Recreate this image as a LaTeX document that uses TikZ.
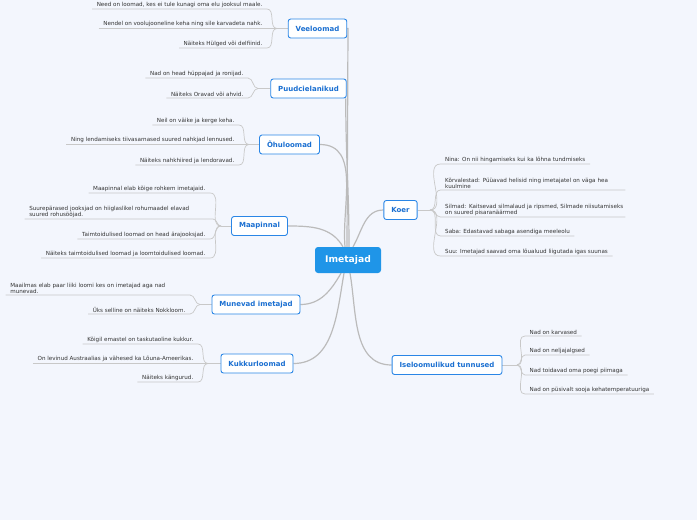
\documentclass[tikz,border=0pt]{standalone}
\usepackage{fontspec}
\setmainfont{DejaVu Sans}
\definecolor{bgc}{HTML}{F3F6FD}
\definecolor{rootc}{HTML}{1F95E8}
\definecolor{brc}{HTML}{2A86E6}
\definecolor{brtext}{HTML}{1A6FD1}
\definecolor{leafc}{HTML}{333333}
\definecolor{connc}{HTML}{BBBBBB}
\definecolor{linec}{HTML}{C8C8C8}
\pgfdeclarelayer{bgl}
\pgfdeclarelayer{edges}
\pgfsetlayers{bgl,edges,main}
\begin{document}
\begin{tikzpicture}[x=1pt,y=-1pt,
  rootbox/.style={fill=rootc, rounded corners=3pt, text=white, font=\bfseries\fontsize{9.2}{11}\selectfont, minimum width=66pt, minimum height=26pt, inner sep=0pt},
  branch/.style={draw=brc, line width=0.9pt, fill=white, rounded corners=2.5pt, text=brtext, font=\bfseries\fontsize{7}{8}\selectfont, minimum height=19pt, inner xsep=7.5pt, inner ysep=0pt},
  leafl/.style={font=\fontsize{5.6}{6.2}\selectfont, text=leafc, inner xsep=4.5pt, inner ysep=1.3pt, anchor=south east},
  leafr/.style={font=\fontsize{5.6}{6.2}\selectfont, text=leafc, inner xsep=4.5pt, inner ysep=1.3pt, anchor=south west},
  multi/.style={align=left, text width=#1},
  conn/.style={draw=connc, line width=1.2pt},
  lline/.style={draw=linec, line width=0.7pt}]
\begin{pgfonlayer}{bgl}
\fill[bgc] (0,0) rectangle (697,520);
\end{pgfonlayer}
\useasboundingbox (0,0) rectangle (697,520);

% root
\node[rootbox] (root) at (348,260) {Imetajad};

% Veeloomad
\node[branch] (vee) at (317.5,28.5) {Veeloomad};
\coordinate (vj) at (277,28.5);
\node[leafl] (v1) at (267,9) {Need on loomad, kes ei tule kunagi oma elu jooksul maale.};
\node[leafl] (v2) at (267,28.5) {Nendel on voolujooneline keha ning sile karvadeta nahk.};
\node[leafl] (v3) at (267,48) {Näiteks Hülged või delfiinid.};

% Puudcielanikud
\node[branch] (puu) at (308.5,88.5) {Puudcielanikud};
\coordinate (pj) at (258,88.5);
\node[leafl] (p1) at (248,78) {Nad on head hüppajad ja ronijad.};
\node[leafl] (p2) at (248,98) {Näiteks Oravad või ahvid.};

% Ohuloomad
\node[branch] (ohu) at (289.5,144.5) {Õhuloomad};
\coordinate (oj) at (249,144.5);
\node[leafl] (o1) at (239,125) {Neil on väike ja kerge keha.};
\node[leafl] (o2) at (239,144.5) {Ning lendamiseks tiivasarnased suured nahkjad lennused.};
\node[leafl] (o3) at (239,165) {Näiteks nahkhiired ja lendoravad.};

% Maapinnal
\node[branch] (maa) at (259.5,226) {Maapinnal};
\coordinate (mj) at (221,226);
\node[leafl] (m1) at (210,193) {Maapinnal elab kõige rohkem imetajaid.};
\node[leafl,multi=179pt] (m2) at (213,219) {\mbox{Suurepärased jooksjad on hiiglaslikel rohumaadel elavad}\\suured rohusööjad.};
\node[leafl] (m3) at (210,239) {Taimtoidulised loomad on head ärajooksjad.};
\node[leafl] (m4) at (210,258) {Näiteks taimtoidulised loomad ja loomtoidulised loomad.};

% Munevad imetajad
\node[branch] (mun) at (256,304.5) {Munevad imetajad};
\coordinate (nj) at (200,304.5);
\node[leafl,multi=175pt] (n1) at (190,295) {\mbox{Maailmas elab paar liiki loomi kes on imetajad aga nad}\\munevad.};
\node[leafl] (n2) at (190,314) {Üks selline on näiteks Nokkloom.};

% Kukkurloomad
\node[branch] (kuk) at (257,363.5) {Kukkurloomad};
\coordinate (kj) at (208,363.5);
\node[leafl] (k1) at (198,344) {Kõigil emastel on taskutaoline kukkur.};
\node[leafl] (k2) at (198,363.5) {On levinud Austraalias ja vähesed ka Lõuna-Ameerikas.};
\node[leafl] (k3) at (198,382) {Näiteks kängurud.};

% Koer
\node[branch] (koer) at (400.5,210) {Koer};
\coordinate (cj) at (430,210);
\node[leafr] (c1) at (440.5,164) {Nina: On nii hingamiseks kui ka lõhna tundmiseks};
\node[leafr,multi=175.5pt] (c2) at (440.5,190) {\mbox{Kõrvalestad: Püüavad helisid ning imetajatel on väga hea}\\kuulmine};
\node[leafr,multi=175.5pt] (c3) at (440.5,217) {\mbox{Silmad: Kaitsevad silmalaud ja ripsmed, Silmade niisutamiseks}\\on suured pisaranäärmed};
\node[leafr] (c4) at (440.5,236) {Saba: Edastavad sabaga asendiga meeleolu};
\node[leafr] (c5) at (440.5,256) {Suu: Imetajad saavad oma lõualuud liigutada igas suunas};

% Iseloomulikud tunnused
\node[branch] (ise) at (447,365) {Iseloomulikud tunnused};
\coordinate (ij) at (517,365);
\node[leafr] (i1) at (525,336) {Nad on karvased};
\node[leafr] (i2) at (525,355) {Nad on neljajalgsed};
\node[leafr] (i3) at (525,375) {Nad toidavad oma poegi piimaga};
\node[leafr] (i4) at (525,394) {Nad on püsivalt sooja kehatemperatuuriga};

\begin{pgfonlayer}{edges}
% main connectors
\draw[conn] ([xshift=-1pt]root.north) -- (root.north |- vee.east) -- (vee.east);
\draw[conn] ([xshift=1pt]root.north) to[out=90,in=-90] ([xshift=-1pt]puu.south east);
\draw[conn] (ohu.east) to[out=0,in=95] ([xshift=-3pt]root.north);
\draw[conn] (maa.east) to[out=0,in=120] ([xshift=-5pt]root.north);
\draw[conn] (koer.west) to[out=180,in=60] ([xshift=5pt]root.north);
\draw[conn] (mun.east) to[out=0,in=-120] ([xshift=-7pt]root.south);
\draw[conn] (kuk.east) to[out=0,in=-100] ([xshift=-4pt]root.south);
\draw[conn] (ise.west) to[out=180,in=-80] ([xshift=2pt]root.south);
% leaf lines left
\draw[lline] (vee.west) -- (vj);
\foreach \n in {v1,v2,v3} \draw[lline] (\n.south west) -- (\n.south east) to[out=0,in=180] (vj);
\draw[lline] (puu.west) -- (pj);
\foreach \n in {p1,p2} \draw[lline] (\n.south west) -- (\n.south east) to[out=0,in=180] (pj);
\draw[lline] (ohu.west) -- (oj);
\foreach \n in {o1,o2,o3} \draw[lline] (\n.south west) -- (\n.south east) to[out=0,in=180] (oj);
\draw[lline] (maa.west) -- (mj);
\foreach \n in {m1,m2,m3,m4} \draw[lline] (\n.south west) -- (\n.south east) to[out=0,in=180] (mj);
\draw[lline] (mun.west) -- (nj);
\foreach \n in {n1,n2} \draw[lline] (\n.south west) -- (\n.south east) to[out=0,in=180] (nj);
\draw[lline] (kuk.west) -- (kj);
\foreach \n in {k1,k2,k3} \draw[lline] (\n.south west) -- (\n.south east) to[out=0,in=180] (kj);
% leaf lines right
\draw[lline] (koer.east) -- (cj);
\foreach \n in {c1,c2,c3,c4,c5} \draw[lline] (cj) to[out=0,in=180] (\n.south west) -- (\n.south east);
\draw[lline] (ise.east) -- (ij);
\foreach \n in {i1,i2,i3,i4} \draw[lline] (ij) to[out=0,in=180] (\n.south west) -- (\n.south east);
\end{pgfonlayer}
\end{tikzpicture}
\end{document}
